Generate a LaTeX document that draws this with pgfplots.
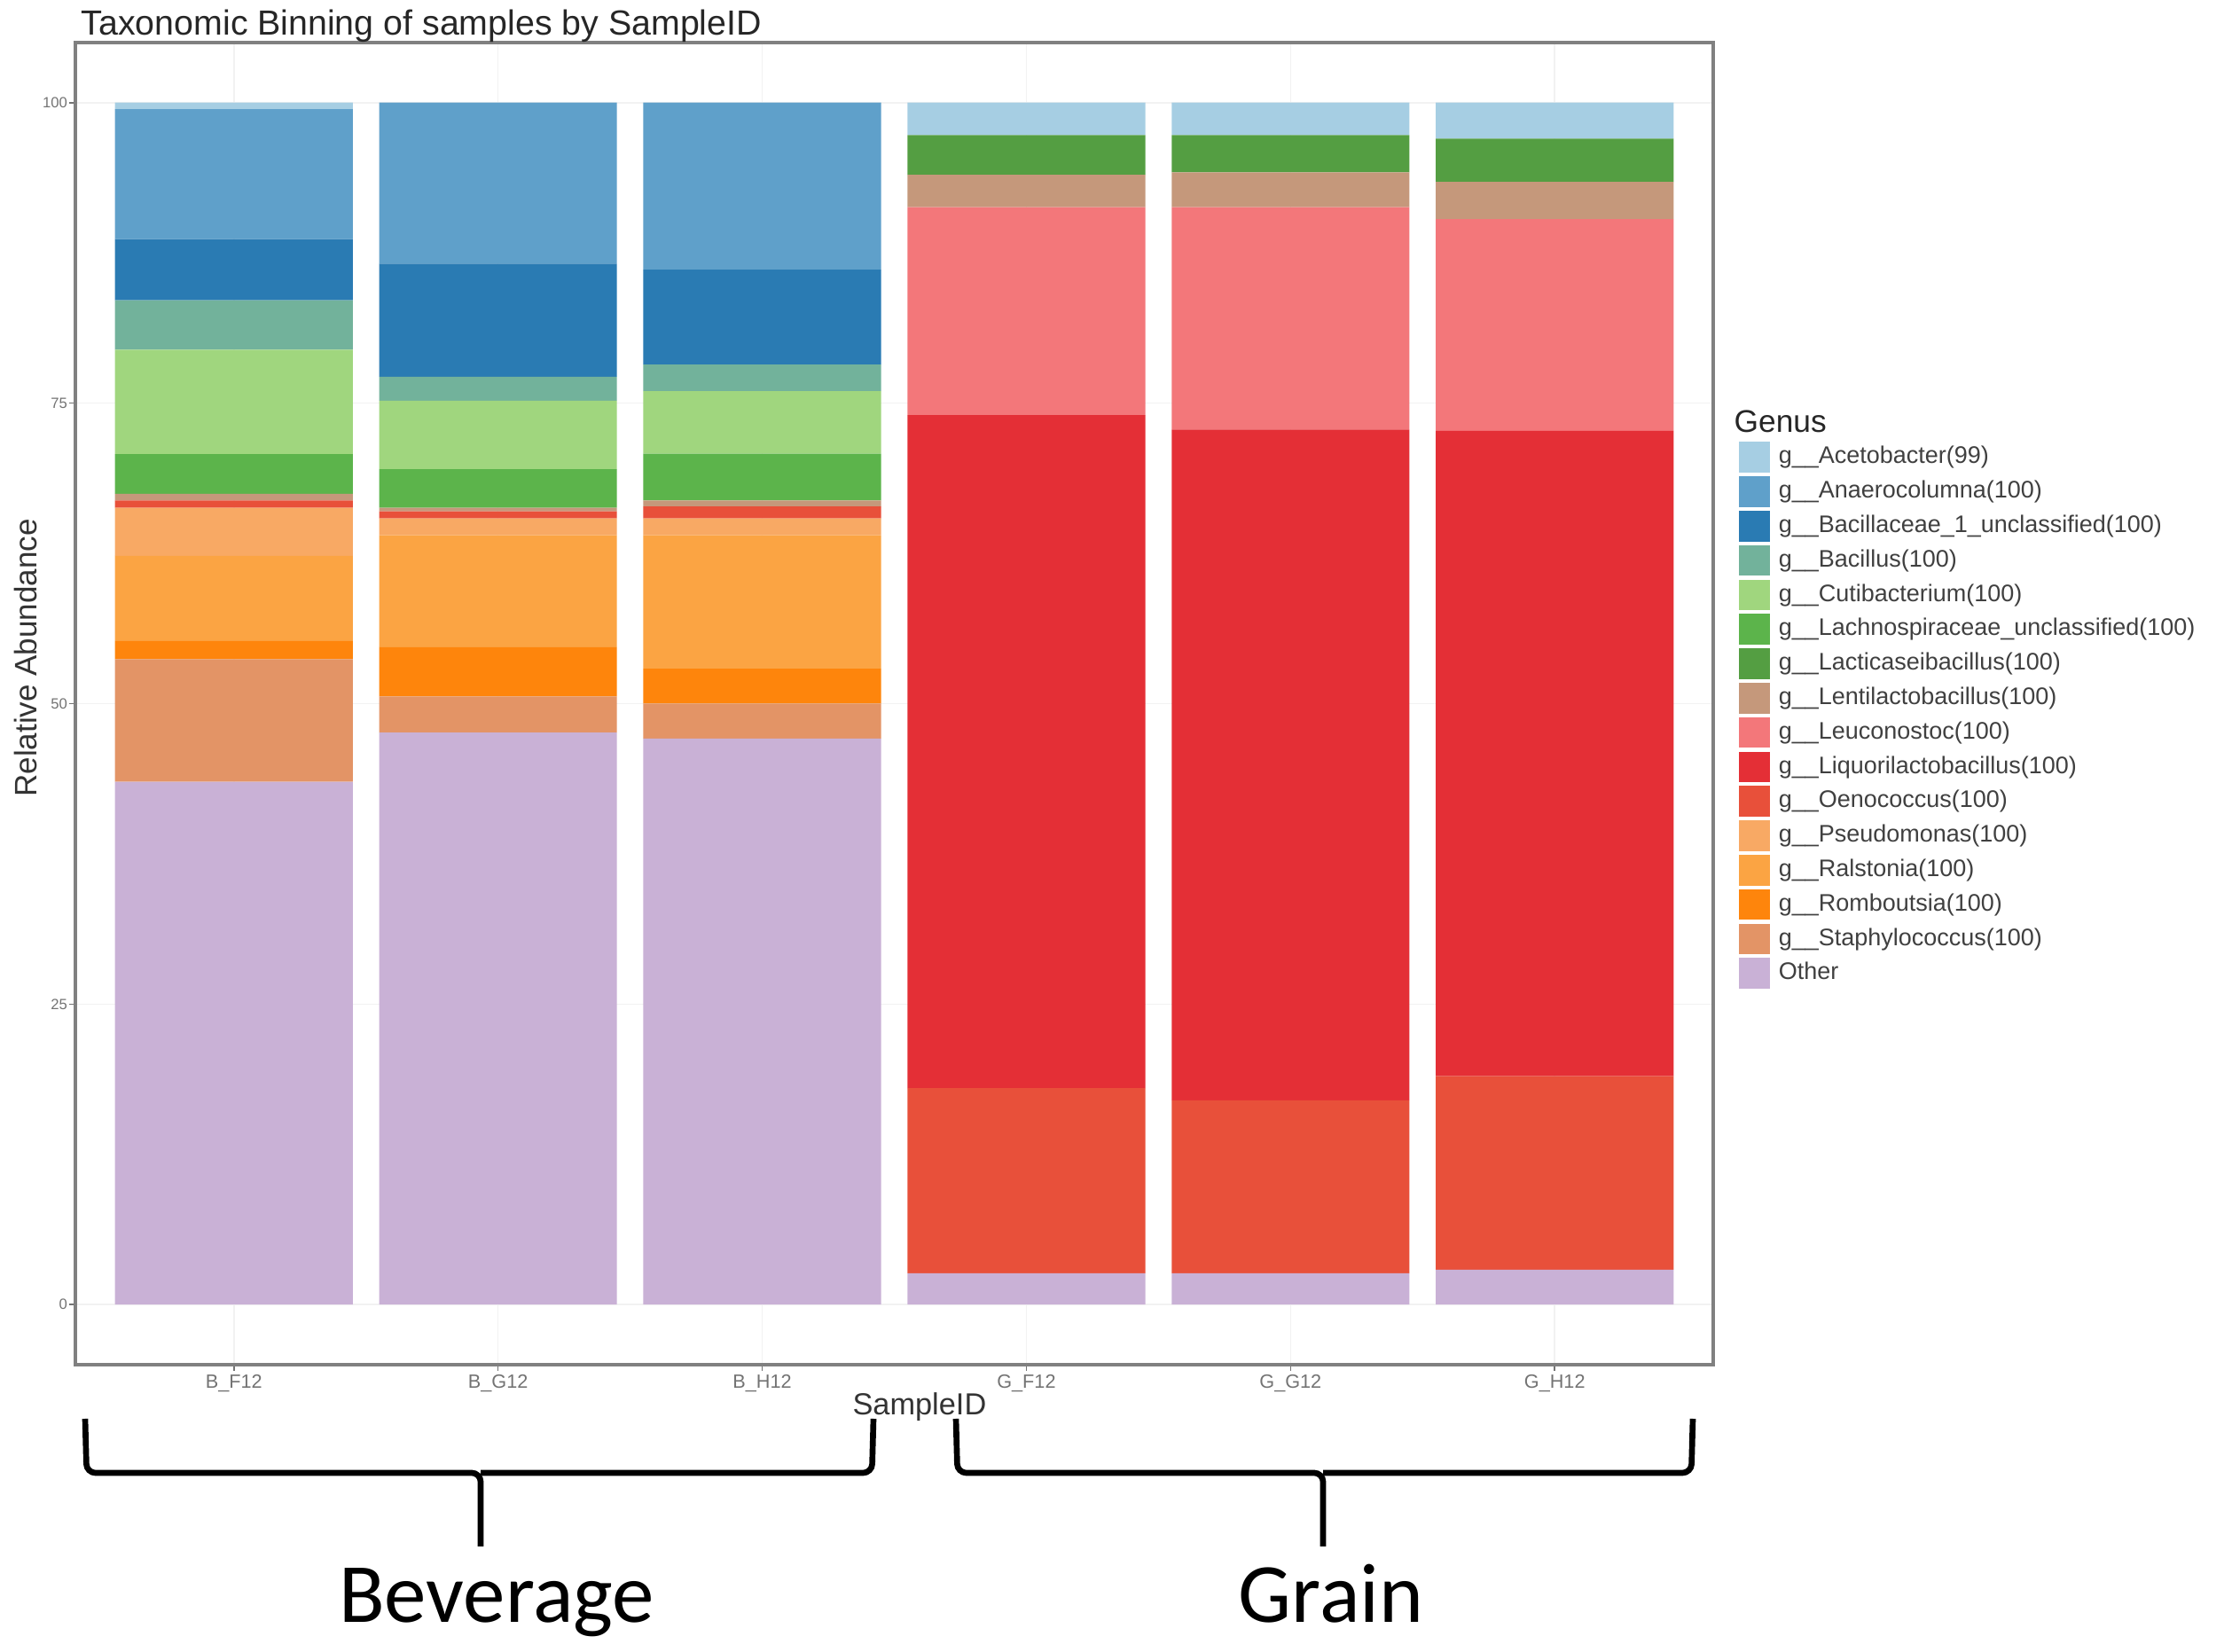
\documentclass[border=0pt]{standalone}
\usepackage{pgfplots}
\usepackage{pgfplotstable}
\pgfplotsset{compat=1.18}
\usepackage{fontspec}
\setmainfont{Liberation Sans}
\newfontfamily\calibri{Carlito}

\definecolor{cAceto}{HTML}{A6CEE3}
\definecolor{cAnaero}{HTML}{5FA0CA}
\definecolor{cBacillaceae}{HTML}{2A7BB3}
\definecolor{cBacillus}{HTML}{72B29B}
\definecolor{cCuti}{HTML}{A0D67E}
\definecolor{cLachno}{HTML}{5CB44B}
\definecolor{cLactica}{HTML}{549E42}
\definecolor{cLenti}{HTML}{C5987B}
\definecolor{cLeucon}{HTML}{F3777A}
\definecolor{cLiquor}{HTML}{E42F36}
\definecolor{cOeno}{HTML}{E8503A}
\definecolor{cPseudo}{HTML}{F8A964}
\definecolor{cRalst}{HTML}{FBA443}
\definecolor{cRomb}{HTML}{FE850C}
\definecolor{cStaph}{HTML}{E39466}
\definecolor{cOther}{HTML}{C9B1D6}

% relative abundance (%) per sample, bottom of the stack first
\pgfplotstableread{
x Other Staph Romb Ralst Pseudo Oeno Liquor Leucon Lenti Lactica Lachno Cuti Bacillus Bacillaceae Anaero Aceto
1 43.5  10.2  1.5  7.1   4.0    0.6  0      0      0.55  0       3.3    8.7  4.1      5.1         10.8   0.55
2 47.6  3.0   4.1  9.3   1.4    0.6  0      0      0.3   0       3.2    5.7  2.0      9.4         13.4   0
3 47.1  2.9   2.9  11.1  1.4    1.0  0      0      0.5   0       3.9    5.2  2.2      7.9         13.9   0
4 2.6   0     0    0     0      15.4 56.0   17.3   2.7   3.3     0      0    0        0           0      2.7
5 2.6   0     0    0     0      14.4 55.8   18.5   2.9   3.1     0      0    0        0           0      2.7
6 2.9   0     0    0     0      16.1 53.7   17.6   3.1   3.6     0      0    0        0           0      3.0
}\abund

\begin{document}
\begin{tikzpicture}
\useasboundingbox (0,0) rectangle (752.4pt,558.9pt);
\begin{axis}[
  at={(25.5pt,97.2pt)}, anchor=south west,
  scale only axis, width=554.1pt, height=447.3pt,
  xmin=0.4, xmax=6.6, ymin=-5, ymax=105,
  ybar stacked, bar width=0.9,
  xtick={1,...,6},
  xticklabels={B\_F12,B\_G12,B\_H12,G\_F12,G\_G12,G\_H12},
  ytick={0,25,50,75,100},
  xtick pos=bottom, ytick pos=left,
  /pgf/number format/assume math mode=true,
  tick align=outside, major tick length=2pt,
  tick style={color=black!55, line width=0.5pt},
  axis line style={color=black!50, line width=1pt},
  grid=major, major grid style={color=black!5, line width=0.5pt},
  xticklabel style={font=\fontsize{6.5}{7}\selectfont, text=black!55, inner sep=0pt, yshift=-1.3pt},
  yticklabel style={font=\fontsize{5}{6}\selectfont, text=black!55, inner sep=0.5pt},
  xlabel={SampleID}, ylabel={Relative Abundance},
  xlabel style={font=\fontsize{10.3}{12}\selectfont, text=black!80, at={(axis description cs:0.5154,-0.0322)}, anchor=center},
  ylabel style={font=\fontsize{10.5}{12}\selectfont, text=black!80, at={(axis description cs:-0.0303,0.5345)}, anchor=center},
  legend image code/.code={\fill[#1,draw=none] (0pt,-5.2pt) rectangle (10.5pt,5.2pt);},
  reverse legend,
  legend cell align=left,
  legend style={at={(axis description cs:1.0152,0.6998)}, anchor=north west,
    draw=none, fill=none, inner sep=0pt, row sep=0pt,
    font=\fontsize{8.1}{9}\selectfont, text=black!75,
    nodes={inner sep=0pt, minimum height=11.64pt},
    /tikz/every odd column/.append style={column sep=3pt}},
]
\addplot[fill=cOther, draw=none] table[x=x, y=Other] {\abund};
\addlegendentry{Other}
\addplot[fill=cStaph, draw=none] table[x=x, y=Staph] {\abund};
\addlegendentry{g\_\_Staphylococcus(100)}
\addplot[fill=cRomb, draw=none] table[x=x, y=Romb] {\abund};
\addlegendentry{g\_\_Romboutsia(100)}
\addplot[fill=cRalst, draw=none] table[x=x, y=Ralst] {\abund};
\addlegendentry{g\_\_Ralstonia(100)}
\addplot[fill=cPseudo, draw=none] table[x=x, y=Pseudo] {\abund};
\addlegendentry{g\_\_Pseudomonas(100)}
\addplot[fill=cOeno, draw=none] table[x=x, y=Oeno] {\abund};
\addlegendentry{g\_\_Oenococcus(100)}
\addplot[fill=cLiquor, draw=none] table[x=x, y=Liquor] {\abund};
\addlegendentry{g\_\_Liquorilactobacillus(100)}
\addplot[fill=cLeucon, draw=none] table[x=x, y=Leucon] {\abund};
\addlegendentry{g\_\_Leuconostoc(100)}
\addplot[fill=cLenti, draw=none] table[x=x, y=Lenti] {\abund};
\addlegendentry{g\_\_Lentilactobacillus(100)}
\addplot[fill=cLactica, draw=none] table[x=x, y=Lactica] {\abund};
\addlegendentry{g\_\_Lacticaseibacillus(100)}
\addplot[fill=cLachno, draw=none] table[x=x, y=Lachno] {\abund};
\addlegendentry{g\_\_Lachnospiraceae\_unclassified(100)}
\addplot[fill=cCuti, draw=none] table[x=x, y=Cuti] {\abund};
\addlegendentry{g\_\_Cutibacterium(100)}
\addplot[fill=cBacillus, draw=none] table[x=x, y=Bacillus] {\abund};
\addlegendentry{g\_\_Bacillus(100)}
\addplot[fill=cBacillaceae, draw=none] table[x=x, y=Bacillaceae] {\abund};
\addlegendentry{g\_\_Bacillaceae\_1\_unclassified(100)}
\addplot[fill=cAnaero, draw=none] table[x=x, y=Anaero] {\abund};
\addlegendentry{g\_\_Anaerocolumna(100)}
\addplot[fill=cAceto, draw=none] table[x=x, y=Aceto] {\abund};
\addlegendentry{g\_\_Acetobacter(99)}
\end{axis}

% title and legend heading
\node[anchor=base west, inner sep=0pt, font=\fontsize{11.8}{13}\selectfont, text=black!85]
  at (27.3pt,546.9pt) {Taxonomic Binning of samples by SampleID};
\node[anchor=west, inner sep=0pt, font=\fontsize{10.6}{12}\selectfont, text=black!85]
  at (586.5pt,416.4pt) {Genus};

% group braces
\begin{scope}[line width=2pt, rounded corners=3pt]
  \draw (28.8pt,78.9pt) -- (29.3pt,60.6pt) -- (162.6pt,60.6pt) -- (162.6pt,35.7pt);
  \draw (162.6pt,60.6pt) -- (295.0pt,60.6pt) -- (295.5pt,78.9pt);
  \draw (323.4pt,78.9pt) -- (323.9pt,60.6pt) -- (447.6pt,60.6pt) -- (447.6pt,35.7pt);
  \draw (447.6pt,60.6pt) -- (572.2pt,60.6pt) -- (572.7pt,78.9pt);
\end{scope}
\node[anchor=base, inner sep=0pt, font=\calibri\fontsize{28.5}{32}\selectfont] at (168pt,10pt) {Beverage};
\node[anchor=base, inner sep=0pt, font=\calibri\fontsize{28.5}{32}\selectfont] at (450.3pt,10pt) {Grain};
\end{tikzpicture}
\end{document}
